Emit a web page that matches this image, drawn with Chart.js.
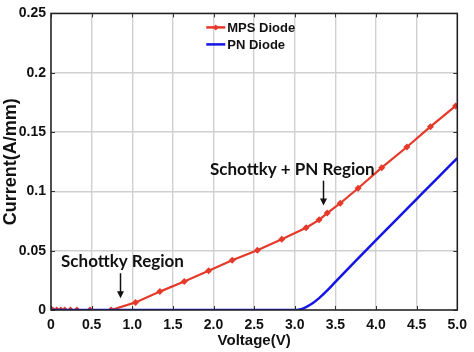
<!DOCTYPE html>
<html>
<head>
<meta charset="utf-8">
<script src="https://cdn.jsdelivr.net/npm/chart.js"></script>
<style>
    html, body { margin: 0; padding: 0; background: #fff; }
    #caixa { width: 474px; height: 352px; }
</style>
</head>
<body>
<div id="caixa"><canvas id="graficoIV"></canvas></div>
<script>
// dados
const tensaoMPS = [0, 0.02, 0.07, 0.12, 0.17, 0.24, 0.32, 0.48, 0.74, 1.04, 1.34, 1.64, 1.94, 2.23, 2.54, 2.84, 3.14, 3.30, 3.40, 3.56, 3.78, 4.07, 4.38, 4.67, 4.98]
const correnteMPS = [0, 0, 0, 0, 0, 0, 0, 0, 0, 0.0064, 0.0155, 0.024, 0.033, 0.042, 0.0504, 0.0597, 0.0694, 0.076, 0.0817, 0.090, 0.1026, 0.120, 0.1374, 0.1545, 0.172]

const tensaoPN = [0, 1.0, 2.0, 3.0, 3.05, 3.1, 3.2, 3.3, 3.4, 3.5, 3.75, 4.0, 4.25, 4.5, 4.75, 5.0]
const correntePN = [0, 0, 0, 0, 0.0003, 0.0012, 0.0048, 0.0100, 0.0165, 0.0237, 0.0415, 0.0590, 0.0762, 0.0935, 0.1108, 0.128]

const ticksX = [0, 0.5, 1.0, 1.5, 2.0, 2.5, 3.0, 3.5, 4.0, 4.5, 5.0]
const rotulosX = ['0', '0.5', '1.0', '1.5', '2.0', '2.5', '3.0', '3.5', '4.0', '4.5', '5.0']
const ticksY = [0, 0.05, 0.1, 0.15, 0.2, 0.25]
const rotulosY = ['0', '0.05', '0.1', '0.15', '0.2', '0.25']

const nomesSeries = ['MPS Diode', 'PN Diode']

const corMPS = '#e5392a'
const corPN = '#1414e6'

Chart.defaults.font.family = 'Liberation Sans'
Chart.defaults.color = '#111'

// moldura e ticks para dentro (estilo matlab)
const moldura = {
    id: 'moldura',
    afterDraw(chart) {
        const { ctx, chartArea } = chart
        const sx = chart.scales.x
        const sy = chart.scales.y
        ctx.save()
        ctx.strokeStyle = '#333'
        ctx.lineWidth = 1
        ticksX.forEach(v => {
            const px = Math.round(sx.getPixelForValue(v)) + 0.5
            ctx.beginPath()
            ctx.moveTo(px, chartArea.bottom); ctx.lineTo(px, chartArea.bottom - 4)
            ctx.moveTo(px, chartArea.top); ctx.lineTo(px, chartArea.top + 4)
            ctx.stroke()
        })
        ticksY.forEach(v => {
            const py = Math.round(sy.getPixelForValue(v)) + 0.5
            ctx.beginPath()
            ctx.moveTo(chartArea.left, py); ctx.lineTo(chartArea.left + 4, py)
            ctx.moveTo(chartArea.right, py); ctx.lineTo(chartArea.right - 4, py)
            ctx.stroke()
        })
        ctx.strokeStyle = '#222'
        ctx.lineWidth = 1.5
        ctx.strokeRect(chartArea.left, chartArea.top, chartArea.right - chartArea.left, chartArea.bottom - chartArea.top)
        ctx.restore()
    }
}

// legenda desenhada a mao dentro do grafico
const legenda = {
    id: 'legenda',
    afterDraw(chart) {
        const { ctx, chartArea } = chart
        const x0 = chartArea.right - 251
        const ys = [chartArea.top + 14, chartArea.top + 31]
        ctx.save()
        ctx.font = 'bold 13px "Liberation Sans"'
        ctx.textBaseline = 'middle'
        chart.data.datasets.forEach((ds, i) => {
            const y = ys[i]
            ctx.strokeStyle = ds.borderColor
            ctx.lineWidth = 2.5
            ctx.beginPath()
            ctx.moveTo(x0, y); ctx.lineTo(x0 + 19, y)
            ctx.stroke()
            if (ds.pointRadius > 0) {
                ctx.fillStyle = ds.borderColor
                ctx.beginPath()
                ctx.moveTo(x0 + 9.5, y - 3); ctx.lineTo(x0 + 12.5, y)
                ctx.lineTo(x0 + 9.5, y + 3); ctx.lineTo(x0 + 6.5, y)
                ctx.closePath()
                ctx.fill()
            }
            ctx.fillStyle = '#111'
            ctx.fillText(ds.label, x0 + 21, y + 1)
        })
        ctx.restore()
    }
}

// textos e setas das regioes
const anotacoes = {
    id: 'anotacoes',
    afterDraw(chart) {
        const { ctx } = chart
        const sx = chart.scales.x
        const sy = chart.scales.y
        ctx.save()
        ctx.font = 'bold 17px Lato'
        ctx.fillStyle = '#111'
        ctx.textAlign = 'center'
        ctx.textBaseline = 'alphabetic'
        ctx.fillText('Schottky Region', sx.getPixelForValue(0.88), sy.getPixelForValue(0.036))
        ctx.fillText('Schottky + PN Region', sx.getPixelForValue(2.97), sy.getPixelForValue(0.114))

        const seta = (v, i1, i2) => {
            const px = Math.round(sx.getPixelForValue(v)) + 0.5
            const ya = sy.getPixelForValue(i1)
            const yb = sy.getPixelForValue(i2)
            ctx.strokeStyle = '#111'
            ctx.lineWidth = 1.5
            ctx.beginPath()
            ctx.moveTo(px, ya); ctx.lineTo(px, yb - 5)
            ctx.stroke()
            ctx.fillStyle = '#111'
            ctx.beginPath()
            ctx.moveTo(px - 3.5, yb - 7); ctx.lineTo(px + 3.5, yb - 7); ctx.lineTo(px, yb)
            ctx.closePath()
            ctx.fill()
        }
        seta(0.846, 0.031, 0.010)
        seta(3.345, 0.109, 0.088)
        ctx.restore()
    }
}

const ctxGrafico = document.getElementById('graficoIV')
new Chart(ctxGrafico, {
    type: 'line',
    data: {
        datasets: [
            {
                label: nomesSeries[0],
                data: tensaoMPS.map((v, i) => ({ x: v, y: correnteMPS[i] })),
                borderColor: corMPS,
                backgroundColor: corMPS,
                borderWidth: 2.2,
                pointStyle: 'rectRot',
                pointRadius: 3.5,
                pointBorderWidth: 0,
                tension: 0,
                order: 2
            },
            {
                label: nomesSeries[1],
                data: tensaoPN.map((v, i) => ({ x: v, y: correntePN[i] })),
                borderColor: corPN,
                backgroundColor: corPN,
                borderWidth: 2.5,
                pointRadius: 0,
                cubicInterpolationMode: 'monotone',
                order: 1
            }
        ]
    },
    options: {
        responsive: true,
        maintainAspectRatio: false,
        animation: false,
        devicePixelRatio: 1,
        layout: {
            padding: { top: 6, right: 11, left: 0, bottom: 0 }
        },
        plugins: {
            legend: { display: false },
            tooltip: { enabled: false }
        },
        scales: {
            x: {
                type: 'linear',
                min: 0,
                max: 5,
                afterBuildTicks: (s) => { s.ticks = ticksX.map(v => ({ value: v })) },
                afterFit: (s) => { s.height = 42 },
                ticks: {
                    autoSkip: false,
                    maxRotation: 0,
                    padding: 7,
                    font: { size: 14, weight: 'bold' },
                    color: '#111',
                    callback: (v) => rotulosX[ticksX.indexOf(v)]
                },
                grid: {
                    color: '#d0d0d0',
                    lineWidth: 1.4,
                    drawTicks: false
                },
                border: { display: false },
                title: {
                    display: true,
                    text: 'Voltage(V)',
                    font: { size: 15, weight: 'bold' },
                    color: '#111',
                    padding: { top: 0, bottom: 2 }
                }
            },
            y: {
                type: 'linear',
                min: 0,
                max: 0.25,
                afterBuildTicks: (s) => { s.ticks = ticksY.map(v => ({ value: v })) },
                afterFit: (s) => { s.width = 51 },
                ticks: {
                    autoSkip: false,
                    padding: 5,
                    font: { size: 14, weight: 'bold' },
                    color: '#111',
                    callback: (v) => rotulosY[ticksY.indexOf(v)]
                },
                grid: {
                    color: '#d0d0d0',
                    lineWidth: 1.4,
                    drawTicks: false
                },
                border: { display: false },
                title: {
                    display: true,
                    text: 'Current(A/mm)',
                    font: { size: 18, weight: 'bold' },
                    color: '#111',
                    padding: { top: 0, bottom: 0 }
                }
            }
        }
    },
    plugins: [moldura, legenda, anotacoes]
})
</script>
</body>
</html>
